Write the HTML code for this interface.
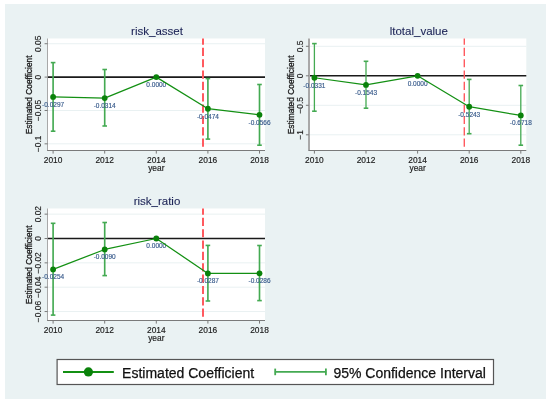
<!DOCTYPE html>
<html><head><meta charset="utf-8"><title>Event study coefficients</title>
<style>
html,body{margin:0;padding:0;background:#ffffff;}
svg{display:block;}
svg text{font-family:'Liberation Sans', Arial, sans-serif;}
</style></head>
<body>
<svg width="550" height="402" viewBox="0 0 550 402">
<rect x="0" y="0" width="550" height="402" fill="#ffffff"/>
<rect x="5" y="4" width="541" height="395" fill="#eaf2f3"/>
<g transform="translate(0,0)">
<rect x="47.6" y="38.5" width="217.4" height="111.5" fill="#ffffff"/>
<line x1="47.6" x2="265" y1="43.73" y2="43.73" stroke="#e9f1f2" stroke-width="1"/>
<line x1="47.6" x2="265" y1="110.47" y2="110.47" stroke="#e9f1f2" stroke-width="1"/>
<line x1="47.6" x2="265" y1="143.84" y2="143.84" stroke="#e9f1f2" stroke-width="1"/>
<line x1="47.6" x2="265" y1="77.1" y2="77.1" stroke="#1a1a1a" stroke-width="1.6"/>
<line x1="47.5" x2="47.5" y1="38.5" y2="150.5" stroke="#a8a8a8" stroke-width="1"/>
<line x1="47.1" x2="265" y1="150.5" y2="150.5" stroke="#7a7a7a" stroke-width="1"/>
<line x1="44.6" x2="47.6" y1="43.73" y2="43.73" stroke="#7a7a7a" stroke-width="1"/>
<text x="0" y="0" transform="translate(41.3,43.73) rotate(-90)" text-anchor="middle" font-size="8.4" fill="#1a1a1a" stroke="#1a1a1a" stroke-width="0.15">0.05</text>
<line x1="44.6" x2="47.6" y1="77.1" y2="77.1" stroke="#7a7a7a" stroke-width="1"/>
<text x="0" y="0" transform="translate(41.3,77.1) rotate(-90)" text-anchor="middle" font-size="8.4" fill="#1a1a1a" stroke="#1a1a1a" stroke-width="0.15">0</text>
<line x1="44.6" x2="47.6" y1="110.47" y2="110.47" stroke="#7a7a7a" stroke-width="1"/>
<text x="0" y="0" transform="translate(41.3,110.47) rotate(-90)" text-anchor="middle" font-size="8.4" fill="#1a1a1a" stroke="#1a1a1a" stroke-width="0.15">−0.05</text>
<line x1="44.6" x2="47.6" y1="143.84" y2="143.84" stroke="#7a7a7a" stroke-width="1"/>
<text x="0" y="0" transform="translate(41.3,143.84) rotate(-90)" text-anchor="middle" font-size="8.4" fill="#1a1a1a" stroke="#1a1a1a" stroke-width="0.15">−0.1</text>
<line x1="53.1" x2="53.1" y1="150" y2="153.6" stroke="#7a7a7a" stroke-width="1"/>
<text x="53.1" y="162.7" text-anchor="middle" font-size="8.4" fill="#1a1a1a" stroke="#1a1a1a" stroke-width="0.15">2010</text>
<line x1="104.7" x2="104.7" y1="150" y2="153.6" stroke="#7a7a7a" stroke-width="1"/>
<text x="104.7" y="162.7" text-anchor="middle" font-size="8.4" fill="#1a1a1a" stroke="#1a1a1a" stroke-width="0.15">2012</text>
<line x1="156.3" x2="156.3" y1="150" y2="153.6" stroke="#7a7a7a" stroke-width="1"/>
<text x="156.3" y="162.7" text-anchor="middle" font-size="8.4" fill="#1a1a1a" stroke="#1a1a1a" stroke-width="0.15">2014</text>
<line x1="207.9" x2="207.9" y1="150" y2="153.6" stroke="#7a7a7a" stroke-width="1"/>
<text x="207.9" y="162.7" text-anchor="middle" font-size="8.4" fill="#1a1a1a" stroke="#1a1a1a" stroke-width="0.15">2016</text>
<line x1="259.5" x2="259.5" y1="150" y2="153.6" stroke="#7a7a7a" stroke-width="1"/>
<text x="259.5" y="162.7" text-anchor="middle" font-size="8.4" fill="#1a1a1a" stroke="#1a1a1a" stroke-width="0.15">2018</text>
<text x="156.3" y="170.9" text-anchor="middle" font-size="8.4" fill="#1a1a1a" stroke="#1a1a1a" stroke-width="0.15">year</text>
<text x="0" y="0" transform="translate(32.3,94.85) rotate(-90)" text-anchor="middle" font-size="8.35" fill="#1a1a1a" stroke="#1a1a1a" stroke-width="0.3">Estimated Coefficient</text>
<text x="157" y="34.7" text-anchor="middle" font-size="11.5" fill="#1c2356" stroke="#1c2356" stroke-width="0.1">risk_asset</text>
<line x1="203" x2="203" y1="38.5" y2="150" stroke="#ff5a5f" stroke-width="2.0" stroke-dasharray="8.2 3.15" stroke-dashoffset="2.05"/>
<line x1="53.1" x2="53.1" y1="62.6" y2="131.2" stroke="#44aa52" stroke-width="1.65"/>
<line x1="50.8" x2="55.4" y1="62.6" y2="62.6" stroke="#44aa52" stroke-width="1.6"/>
<line x1="50.8" x2="55.4" y1="131.2" y2="131.2" stroke="#44aa52" stroke-width="1.6"/>
<line x1="104.7" x2="104.7" y1="69.5" y2="126" stroke="#44aa52" stroke-width="1.65"/>
<line x1="102.4" x2="107" y1="69.5" y2="69.5" stroke="#44aa52" stroke-width="1.6"/>
<line x1="102.4" x2="107" y1="126" y2="126" stroke="#44aa52" stroke-width="1.6"/>
<line x1="207.9" x2="207.9" y1="78.6" y2="139.1" stroke="#44aa52" stroke-width="1.65"/>
<line x1="205.6" x2="210.2" y1="78.6" y2="78.6" stroke="#44aa52" stroke-width="1.6"/>
<line x1="205.6" x2="210.2" y1="139.1" y2="139.1" stroke="#44aa52" stroke-width="1.6"/>
<line x1="259.5" x2="259.5" y1="84.5" y2="145.2" stroke="#44aa52" stroke-width="1.65"/>
<line x1="257.2" x2="261.8" y1="84.5" y2="84.5" stroke="#44aa52" stroke-width="1.6"/>
<line x1="257.2" x2="261.8" y1="145.2" y2="145.2" stroke="#44aa52" stroke-width="1.6"/>
<text x="53.1" y="106.87" text-anchor="middle" font-size="6.5" fill="#36598a" stroke="#36598a" stroke-width="0.15">-0.0297</text>
<text x="104.7" y="108.01" text-anchor="middle" font-size="6.5" fill="#36598a" stroke="#36598a" stroke-width="0.15">-0.0314</text>
<text x="156.3" y="87.05" text-anchor="middle" font-size="6.5" fill="#36598a" stroke="#36598a" stroke-width="0.15">0.0000</text>
<text x="207.9" y="118.68" text-anchor="middle" font-size="6.5" fill="#36598a" stroke="#36598a" stroke-width="0.15">-0.0474</text>
<text x="259.5" y="124.82" text-anchor="middle" font-size="6.5" fill="#36598a" stroke="#36598a" stroke-width="0.15">-0.0566</text>
<polyline points="53.1,96.92 104.7,98.06 156.3,77.1 207.9,108.73 259.5,114.87" fill="none" stroke="#139013" stroke-width="1.25" stroke-linejoin="round"/>
<circle cx="53.1" cy="96.92" r="2.9" fill="#0a820a"/>
<circle cx="104.7" cy="98.06" r="2.9" fill="#0a820a"/>
<circle cx="156.3" cy="77.1" r="2.9" fill="#0a820a"/>
<circle cx="207.9" cy="108.73" r="2.9" fill="#0a820a"/>
<circle cx="259.5" cy="114.87" r="2.9" fill="#0a820a"/>
</g>
<g transform="translate(261.3,0)">
<rect x="47.6" y="38.5" width="217.4" height="111.5" fill="#ffffff"/>
<line x1="47.6" x2="265" y1="46.3" y2="46.3" stroke="#e9f1f2" stroke-width="1"/>
<line x1="47.6" x2="265" y1="105.3" y2="105.3" stroke="#e9f1f2" stroke-width="1"/>
<line x1="47.6" x2="265" y1="134.8" y2="134.8" stroke="#e9f1f2" stroke-width="1"/>
<line x1="47.6" x2="265" y1="75.8" y2="75.8" stroke="#1a1a1a" stroke-width="1.6"/>
<line x1="47.7" x2="47.7" y1="38.5" y2="150.5" stroke="#a8a8a8" stroke-width="2"/>
<line x1="47.1" x2="265" y1="150.5" y2="150.5" stroke="#7a7a7a" stroke-width="1"/>
<line x1="44.6" x2="47.6" y1="46.3" y2="46.3" stroke="#7a7a7a" stroke-width="1"/>
<text x="0" y="0" transform="translate(41.3,46.3) rotate(-90)" text-anchor="middle" font-size="8.4" fill="#1a1a1a" stroke="#1a1a1a" stroke-width="0.15">0.5</text>
<line x1="44.6" x2="47.6" y1="75.8" y2="75.8" stroke="#7a7a7a" stroke-width="1"/>
<text x="0" y="0" transform="translate(41.3,75.8) rotate(-90)" text-anchor="middle" font-size="8.4" fill="#1a1a1a" stroke="#1a1a1a" stroke-width="0.15">0</text>
<line x1="44.6" x2="47.6" y1="105.3" y2="105.3" stroke="#7a7a7a" stroke-width="1"/>
<text x="0" y="0" transform="translate(41.3,105.3) rotate(-90)" text-anchor="middle" font-size="8.4" fill="#1a1a1a" stroke="#1a1a1a" stroke-width="0.15">−0.5</text>
<line x1="44.6" x2="47.6" y1="134.8" y2="134.8" stroke="#7a7a7a" stroke-width="1"/>
<text x="0" y="0" transform="translate(41.3,134.8) rotate(-90)" text-anchor="middle" font-size="8.4" fill="#1a1a1a" stroke="#1a1a1a" stroke-width="0.15">−1</text>
<line x1="53.1" x2="53.1" y1="150" y2="153.6" stroke="#7a7a7a" stroke-width="1"/>
<text x="53.1" y="162.7" text-anchor="middle" font-size="8.4" fill="#1a1a1a" stroke="#1a1a1a" stroke-width="0.15">2010</text>
<line x1="104.7" x2="104.7" y1="150" y2="153.6" stroke="#7a7a7a" stroke-width="1"/>
<text x="104.7" y="162.7" text-anchor="middle" font-size="8.4" fill="#1a1a1a" stroke="#1a1a1a" stroke-width="0.15">2012</text>
<line x1="156.3" x2="156.3" y1="150" y2="153.6" stroke="#7a7a7a" stroke-width="1"/>
<text x="156.3" y="162.7" text-anchor="middle" font-size="8.4" fill="#1a1a1a" stroke="#1a1a1a" stroke-width="0.15">2014</text>
<line x1="207.9" x2="207.9" y1="150" y2="153.6" stroke="#7a7a7a" stroke-width="1"/>
<text x="207.9" y="162.7" text-anchor="middle" font-size="8.4" fill="#1a1a1a" stroke="#1a1a1a" stroke-width="0.15">2016</text>
<line x1="259.5" x2="259.5" y1="150" y2="153.6" stroke="#7a7a7a" stroke-width="1"/>
<text x="259.5" y="162.7" text-anchor="middle" font-size="8.4" fill="#1a1a1a" stroke="#1a1a1a" stroke-width="0.15">2018</text>
<text x="156.3" y="170.9" text-anchor="middle" font-size="8.4" fill="#1a1a1a" stroke="#1a1a1a" stroke-width="0.15">year</text>
<text x="0" y="0" transform="translate(32.3,94.85) rotate(-90)" text-anchor="middle" font-size="8.35" fill="#1a1a1a" stroke="#1a1a1a" stroke-width="0.3">Estimated Coefficient</text>
<text x="157.5" y="34.7" text-anchor="middle" font-size="11.5" fill="#1c2356" stroke="#1c2356" stroke-width="0.1">ltotal_value</text>
<line x1="203" x2="203" y1="38.5" y2="150" stroke="#ff5a5f" stroke-width="1.4" stroke-dasharray="8.2 3.15" stroke-dashoffset="2.05"/>
<line x1="53.1" x2="53.1" y1="43.6" y2="111.2" stroke="#44aa52" stroke-width="1.3"/>
<line x1="50.8" x2="55.4" y1="43.6" y2="43.6" stroke="#44aa52" stroke-width="1.6"/>
<line x1="50.8" x2="55.4" y1="111.2" y2="111.2" stroke="#44aa52" stroke-width="1.6"/>
<line x1="104.7" x2="104.7" y1="61.3" y2="108.2" stroke="#44aa52" stroke-width="1.3"/>
<line x1="102.4" x2="107" y1="61.3" y2="61.3" stroke="#44aa52" stroke-width="1.6"/>
<line x1="102.4" x2="107" y1="108.2" y2="108.2" stroke="#44aa52" stroke-width="1.6"/>
<line x1="207.9" x2="207.9" y1="79.4" y2="133.7" stroke="#44aa52" stroke-width="1.3"/>
<line x1="205.6" x2="210.2" y1="79.4" y2="79.4" stroke="#44aa52" stroke-width="1.6"/>
<line x1="205.6" x2="210.2" y1="133.7" y2="133.7" stroke="#44aa52" stroke-width="1.6"/>
<line x1="259.5" x2="259.5" y1="85.5" y2="145.2" stroke="#44aa52" stroke-width="1.3"/>
<line x1="257.2" x2="261.8" y1="85.5" y2="85.5" stroke="#44aa52" stroke-width="1.6"/>
<line x1="257.2" x2="261.8" y1="145.2" y2="145.2" stroke="#44aa52" stroke-width="1.6"/>
<text x="53.1" y="87.7" text-anchor="middle" font-size="6.5" fill="#36598a" stroke="#36598a" stroke-width="0.15">-0.0331</text>
<text x="104.7" y="94.85" text-anchor="middle" font-size="6.5" fill="#36598a" stroke="#36598a" stroke-width="0.15">-0.1543</text>
<text x="156.3" y="85.75" text-anchor="middle" font-size="6.5" fill="#36598a" stroke="#36598a" stroke-width="0.15">0.0000</text>
<text x="207.9" y="116.68" text-anchor="middle" font-size="6.5" fill="#36598a" stroke="#36598a" stroke-width="0.15">-0.5243</text>
<text x="259.5" y="125.39" text-anchor="middle" font-size="6.5" fill="#36598a" stroke="#36598a" stroke-width="0.15">-0.6718</text>
<polyline points="53.1,77.75 104.7,84.9 156.3,75.8 207.9,106.73 259.5,115.44" fill="none" stroke="#139013" stroke-width="1.25" stroke-linejoin="round"/>
<circle cx="53.1" cy="77.75" r="2.9" fill="#0a820a"/>
<circle cx="104.7" cy="84.9" r="2.9" fill="#0a820a"/>
<circle cx="156.3" cy="75.8" r="2.9" fill="#0a820a"/>
<circle cx="207.9" cy="106.73" r="2.9" fill="#0a820a"/>
<circle cx="259.5" cy="115.44" r="2.9" fill="#0a820a"/>
</g>
<g transform="translate(0,170)">
<rect x="47.6" y="38.5" width="217.4" height="111.5" fill="#ffffff"/>
<line x1="47.6" x2="265" y1="44.15" y2="44.15" stroke="#e9f1f2" stroke-width="1"/>
<line x1="47.6" x2="265" y1="92.85" y2="92.85" stroke="#e9f1f2" stroke-width="1"/>
<line x1="47.6" x2="265" y1="117.2" y2="117.2" stroke="#e9f1f2" stroke-width="1"/>
<line x1="47.6" x2="265" y1="141.55" y2="141.55" stroke="#e9f1f2" stroke-width="1"/>
<line x1="47.6" x2="265" y1="68.5" y2="68.5" stroke="#1a1a1a" stroke-width="1.6"/>
<line x1="47.5" x2="47.5" y1="38.5" y2="150.5" stroke="#a8a8a8" stroke-width="1"/>
<line x1="47.1" x2="265" y1="150.5" y2="150.5" stroke="#7a7a7a" stroke-width="1"/>
<line x1="44.6" x2="47.6" y1="44.15" y2="44.15" stroke="#7a7a7a" stroke-width="1"/>
<text x="0" y="0" transform="translate(41.3,44.15) rotate(-90)" text-anchor="middle" font-size="8.4" fill="#1a1a1a" stroke="#1a1a1a" stroke-width="0.15">0.02</text>
<line x1="44.6" x2="47.6" y1="68.5" y2="68.5" stroke="#7a7a7a" stroke-width="1"/>
<text x="0" y="0" transform="translate(41.3,68.5) rotate(-90)" text-anchor="middle" font-size="8.4" fill="#1a1a1a" stroke="#1a1a1a" stroke-width="0.15">0</text>
<line x1="44.6" x2="47.6" y1="92.85" y2="92.85" stroke="#7a7a7a" stroke-width="1"/>
<text x="0" y="0" transform="translate(41.3,92.85) rotate(-90)" text-anchor="middle" font-size="8.4" fill="#1a1a1a" stroke="#1a1a1a" stroke-width="0.15">−0.02</text>
<line x1="44.6" x2="47.6" y1="117.2" y2="117.2" stroke="#7a7a7a" stroke-width="1"/>
<text x="0" y="0" transform="translate(41.3,117.2) rotate(-90)" text-anchor="middle" font-size="8.4" fill="#1a1a1a" stroke="#1a1a1a" stroke-width="0.15">−0.04</text>
<line x1="44.6" x2="47.6" y1="141.55" y2="141.55" stroke="#7a7a7a" stroke-width="1"/>
<text x="0" y="0" transform="translate(41.3,141.55) rotate(-90)" text-anchor="middle" font-size="8.4" fill="#1a1a1a" stroke="#1a1a1a" stroke-width="0.15">−0.06</text>
<line x1="53.1" x2="53.1" y1="150" y2="153.6" stroke="#7a7a7a" stroke-width="1"/>
<text x="53.1" y="162.7" text-anchor="middle" font-size="8.4" fill="#1a1a1a" stroke="#1a1a1a" stroke-width="0.15">2010</text>
<line x1="104.7" x2="104.7" y1="150" y2="153.6" stroke="#7a7a7a" stroke-width="1"/>
<text x="104.7" y="162.7" text-anchor="middle" font-size="8.4" fill="#1a1a1a" stroke="#1a1a1a" stroke-width="0.15">2012</text>
<line x1="156.3" x2="156.3" y1="150" y2="153.6" stroke="#7a7a7a" stroke-width="1"/>
<text x="156.3" y="162.7" text-anchor="middle" font-size="8.4" fill="#1a1a1a" stroke="#1a1a1a" stroke-width="0.15">2014</text>
<line x1="207.9" x2="207.9" y1="150" y2="153.6" stroke="#7a7a7a" stroke-width="1"/>
<text x="207.9" y="162.7" text-anchor="middle" font-size="8.4" fill="#1a1a1a" stroke="#1a1a1a" stroke-width="0.15">2016</text>
<line x1="259.5" x2="259.5" y1="150" y2="153.6" stroke="#7a7a7a" stroke-width="1"/>
<text x="259.5" y="162.7" text-anchor="middle" font-size="8.4" fill="#1a1a1a" stroke="#1a1a1a" stroke-width="0.15">2018</text>
<text x="156.3" y="170.9" text-anchor="middle" font-size="8.4" fill="#1a1a1a" stroke="#1a1a1a" stroke-width="0.15">year</text>
<text x="0" y="0" transform="translate(32.3,94.85) rotate(-90)" text-anchor="middle" font-size="8.35" fill="#1a1a1a" stroke="#1a1a1a" stroke-width="0.3">Estimated Coefficient</text>
<text x="157" y="34.7" text-anchor="middle" font-size="11.5" fill="#1c2356" stroke="#1c2356" stroke-width="0.1">risk_ratio</text>
<line x1="203" x2="203" y1="38.5" y2="150" stroke="#ff5a5f" stroke-width="2.0" stroke-dasharray="8.2 3.15" stroke-dashoffset="2.05"/>
<line x1="53.1" x2="53.1" y1="53.3" y2="145.1" stroke="#44aa52" stroke-width="1.65"/>
<line x1="50.8" x2="55.4" y1="53.3" y2="53.3" stroke="#44aa52" stroke-width="1.6"/>
<line x1="50.8" x2="55.4" y1="145.1" y2="145.1" stroke="#44aa52" stroke-width="1.6"/>
<line x1="104.7" x2="104.7" y1="52.5" y2="105.6" stroke="#44aa52" stroke-width="1.65"/>
<line x1="102.4" x2="107" y1="52.5" y2="52.5" stroke="#44aa52" stroke-width="1.6"/>
<line x1="102.4" x2="107" y1="105.6" y2="105.6" stroke="#44aa52" stroke-width="1.6"/>
<line x1="207.9" x2="207.9" y1="75.4" y2="131" stroke="#44aa52" stroke-width="1.65"/>
<line x1="205.6" x2="210.2" y1="75.4" y2="75.4" stroke="#44aa52" stroke-width="1.6"/>
<line x1="205.6" x2="210.2" y1="131" y2="131" stroke="#44aa52" stroke-width="1.6"/>
<line x1="259.5" x2="259.5" y1="75.5" y2="130.6" stroke="#44aa52" stroke-width="1.65"/>
<line x1="257.2" x2="261.8" y1="75.5" y2="75.5" stroke="#44aa52" stroke-width="1.6"/>
<line x1="257.2" x2="261.8" y1="130.6" y2="130.6" stroke="#44aa52" stroke-width="1.6"/>
<text x="53.1" y="109.37" text-anchor="middle" font-size="6.5" fill="#36598a" stroke="#36598a" stroke-width="0.15">-0.0254</text>
<text x="104.7" y="89.41" text-anchor="middle" font-size="6.5" fill="#36598a" stroke="#36598a" stroke-width="0.15">-0.0090</text>
<text x="156.3" y="78.45" text-anchor="middle" font-size="6.5" fill="#36598a" stroke="#36598a" stroke-width="0.15">0.0000</text>
<text x="207.9" y="113.39" text-anchor="middle" font-size="6.5" fill="#36598a" stroke="#36598a" stroke-width="0.15">-0.0287</text>
<text x="259.5" y="113.27" text-anchor="middle" font-size="6.5" fill="#36598a" stroke="#36598a" stroke-width="0.15">-0.0286</text>
<polyline points="53.1,99.42 104.7,79.46 156.3,68.5 207.9,103.44 259.5,103.32" fill="none" stroke="#139013" stroke-width="1.25" stroke-linejoin="round"/>
<circle cx="53.1" cy="99.42" r="2.9" fill="#0a820a"/>
<circle cx="104.7" cy="79.46" r="2.9" fill="#0a820a"/>
<circle cx="156.3" cy="68.5" r="2.9" fill="#0a820a"/>
<circle cx="207.9" cy="103.44" r="2.9" fill="#0a820a"/>
<circle cx="259.5" cy="103.32" r="2.9" fill="#0a820a"/>
</g>
<rect x="57.1" y="359.5" width="436.4" height="25" fill="#ffffff" stroke="#555555" stroke-width="1.2"/>
<line x1="63" x2="113.8" y1="371.9" y2="371.9" stroke="#139013" stroke-width="2"/>
<circle cx="88.4" cy="371.9" r="4.6" fill="#0a820a"/>
<text x="122.1" y="377.5" font-size="14.0" fill="#111111" stroke="#111111" stroke-width="0.25">Estimated Coefficient</text>
<line x1="274.8" x2="326.3" y1="371.9" y2="371.9" stroke="#44aa52" stroke-width="1.8"/>
<line x1="275.2" x2="275.2" y1="368.6" y2="375.2" stroke="#44aa52" stroke-width="1.8"/>
<line x1="325.9" x2="325.9" y1="368.6" y2="375.2" stroke="#44aa52" stroke-width="1.8"/>
<text x="333.4" y="377.5" font-size="14.0" fill="#111111" stroke="#111111" stroke-width="0.25">95% Confidence Interval</text>
</svg>
</body></html>
